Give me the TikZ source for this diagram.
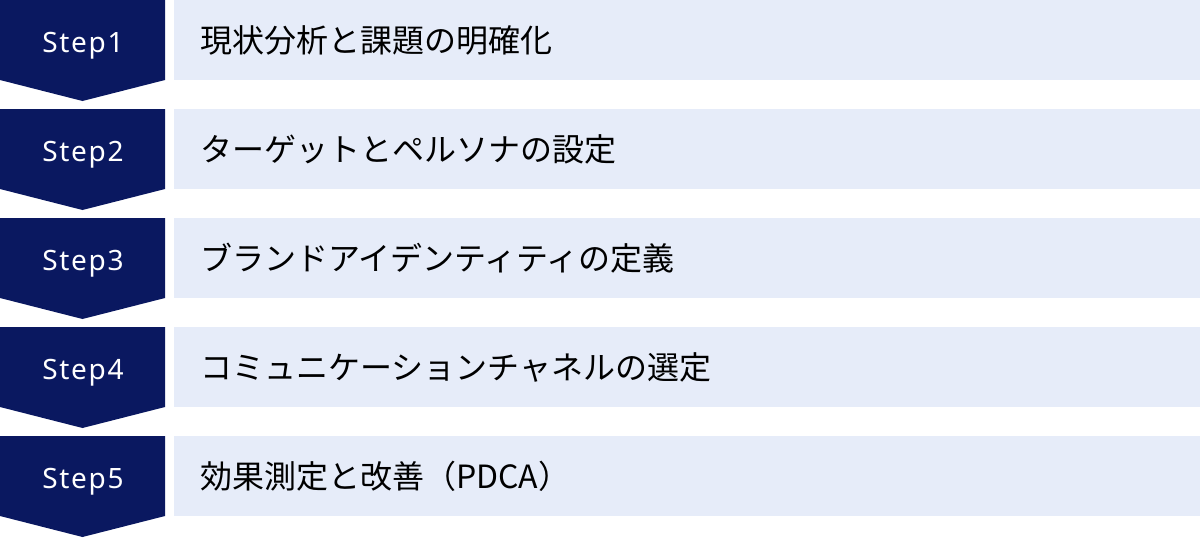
\documentclass[tikz,border=0pt]{standalone}
\usepackage{fontspec}
\newfontfamily\jpfont{Noto Sans CJK JP}
\newfontfamily\stepfont[LetterSpace=6]{Noto Sans}
\definecolor{navy}{RGB}{10,24,96}
\definecolor{lightblue}{RGB}{230,236,249}
\begin{document}
\begin{tikzpicture}[x=1pt,y=-1pt,
  stepshape/.style={fill=navy,draw=none},
  stepbox/.style={fill=lightblue,draw=none,anchor=north west,minimum width=1026pt,minimum height=80pt,inner sep=0pt,outer sep=0pt},
  steplabel/.style={text=white,font=\stepfont\fontsize{28}{32}\selectfont,inner sep=0pt,anchor=base},
  itemtext/.style={text=black,font=\jpfont\fontsize{32}{38}\selectfont,anchor=west,inner sep=0pt}]
\useasboundingbox (0,0) rectangle (1200,538);
\foreach \i/\t/\txt in {1/0/現状分析と課題の明確化,2/109/ターゲットとペルソナの設定,3/218/ブランドアイデンティティの定義,4/327/コミュニケーションチャネルの選定,5/436/効果測定と改善（PDCA）}{
  \fill[stepshape] (0,\t) -- (165,\t) -- (165,\t+80) -- (82.5,\t+101) -- (0,\t+80) -- cycle;
  \node[steplabel] (s\i) at (83,\t+52) {Step\i};
  \node[stepbox] (b\i) at (174,\t) {};
  \node[itemtext] (t\i) at (200,\t+40) {\txt};
}
\end{tikzpicture}
\end{document}
